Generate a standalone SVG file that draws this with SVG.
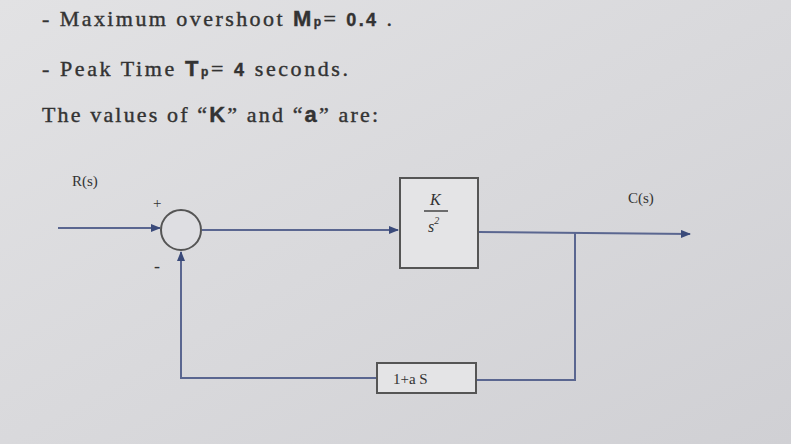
<svg xmlns="http://www.w3.org/2000/svg" width="791" height="444" viewBox="0 0 791 444">
<defs>
<linearGradient id="bg" x1="0" y1="0" x2="1" y2="1"><stop offset="0" stop-color="#e2e2e4"/><stop offset="1" stop-color="#d0d0d4"/></linearGradient>
<marker id="ar" markerWidth="10" markerHeight="8" refX="9" refY="4" orient="auto" markerUnits="userSpaceOnUse"><path d="M0,0 L10,4 L0,8 Z" fill="#3a4a7a"/></marker>
</defs>
<style>
text{font-family:"Liberation Serif",serif;fill:#333}
.h{font-size:22px;stroke:#333;stroke-width:0.4}
.b{font-family:"Liberation Sans",sans-serif;font-weight:bold}
.ln{stroke:#5a6690;stroke-width:2;fill:none}
.bx{fill:#e4e4e6;stroke:#555;stroke-width:2}
</style>
<rect width="791" height="444" fill="url(#bg)"/>
<text class="h" x="42" y="26" textLength="350">- Maximum overshoot <tspan class="b">M</tspan><tspan font-size="12" class="b">p</tspan>= <tspan class="b" font-size="18">0.4</tspan> .</text>
<text class="h" x="42" y="76" textLength="306">- Peak Time <tspan class="b">T</tspan><tspan font-size="12" class="b">p</tspan>= <tspan class="b" font-size="18">4</tspan> seconds.</text>
<text class="h" x="42" y="122" textLength="336">The values of “<tspan class="b">K</tspan>” and “<tspan class="b">a</tspan>”  are:</text>
<text x="72" y="186" font-size="15">R(s)</text>
<text x="628" y="203" font-size="15">C(s)</text>
<text x="153" y="208" font-size="15">+</text>
<text x="154" y="272" font-size="18">-</text>
<g id="connectors">
<path class="ln" d="M58,228 L160,228" marker-end="url(#ar)"/>
<path class="ln" d="M202,230 L398,230" marker-end="url(#ar)"/>
<path class="ln" d="M478,232 L690,234" marker-end="url(#ar)"/>
<path class="ln" d="M575,233 L575,380 L476,380"/>
<path class="ln" d="M377,378 L181,378 L181,252" marker-end="url(#ar)"/>
</g>
<g id="sum"><circle cx="181" cy="230" r="20" fill="#dedee2" stroke="#555" stroke-width="2"/></g>
<g id="plant"><rect class="bx" x="400" y="178" width="78" height="90"/>
<text x="430" y="205" font-size="16" font-style="italic">K</text>
<line x1="424" y1="211" x2="448" y2="211" stroke="#444" stroke-width="1.5"/>
<text x="428" y="232" font-size="16" font-style="italic">s<tspan font-size="10" dy="-8">2</tspan></text></g>
<g id="feedback"><rect class="bx" x="377" y="363" width="99" height="30"/>
<text x="393" y="384" font-size="15">1+a S</text></g>
</svg>
